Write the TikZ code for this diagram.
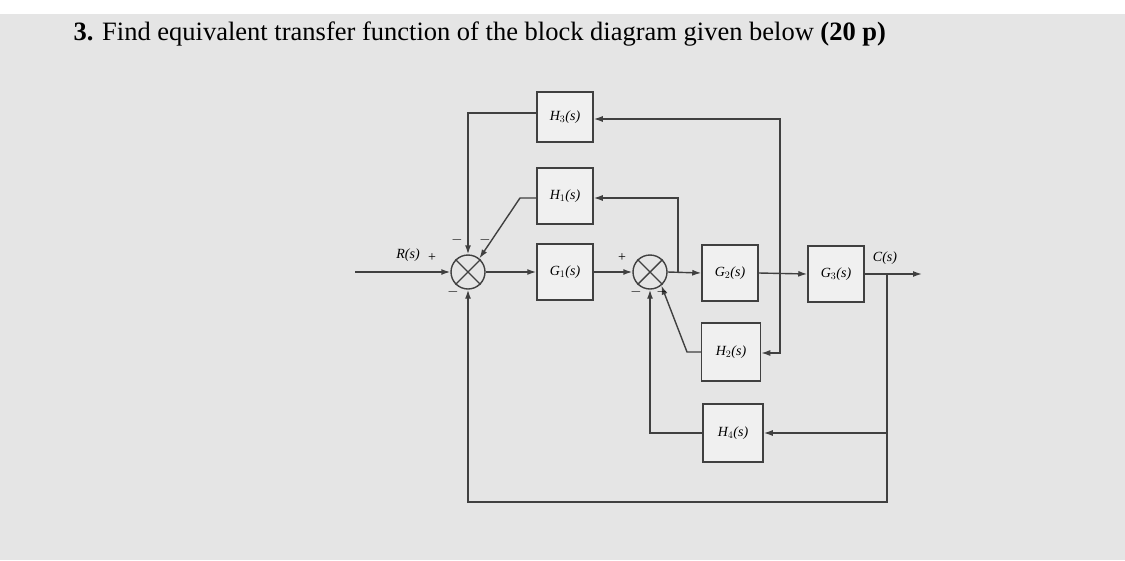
\documentclass[tikz,border=0pt]{standalone}
\usepackage{fontspec}
\setmainfont{Liberation Serif}
\usetikzlibrary{arrows.meta}
\begin{document}
\begin{tikzpicture}[x=1pt,y=-1pt,
  blk/.style={draw=black!75,line width=1.5pt,fill=black!6,minimum width=56pt,minimum height=56pt,inner sep=0pt,font=\itshape\fontsize{14}{16}\selectfont},
  sumj/.style={draw=black!75,line width=1.4pt,circle,minimum size=34pt,inner sep=0pt},
  ln/.style={draw=black!75,line width=1.4pt},
  ar/.style={ln,-{Latex[length=9pt,width=6pt]}},
  sg/.style={font=\fontsize{14}{16}\selectfont}]
\useasboundingbox (0,0) rectangle (1125,560);
\fill[black!10] (0,0) rectangle (1125,560);
\fill[white] (0,0) rectangle (1125,14);
\node[font=\fontsize{26.5}{30}\selectfont,anchor=west] (title) at (70,34) {\textbf{3.} Find equivalent transfer function of the block diagram given below \textbf{(20 p)}};
\node[sumj] (s1) at (468,272) {};
\draw[ln] (s1.45)--(s1.225) (s1.135)--(s1.315);
\node[sumj] (s2) at (650,272) {};
\draw[ln] (s2.45)--(s2.225) (s2.135)--(s2.315);
\node[blk,minimum height=50pt] (H3) at (565,117) {H$_3$(s)};
\node[blk] (H1) at (565,196) {H$_1$(s)};
\node[blk] (G1) at (565,272) {G$_1$(s)};
\node[blk] (G2) at (730,273) {G$_2$(s)};
\node[blk] (G3) at (836,274) {G$_3$(s)};
\node[blk,minimum width=59pt,minimum height=58pt] (H2) at (731,352) {H$_2$(s)};
\node[blk,minimum width=60pt,minimum height=58pt] (H4) at (733,433) {H$_4$(s)};
\coordinate (rin) at (355,272);
\coordinate (cout) at (922,274);
\coordinate (bC) at (887,274);
\coordinate (b23) at (780,274);
\coordinate (bs2) at (678,272);
\node[font=\itshape\fontsize{14}{16}\selectfont] (Rl) at (408,255) {R(s)};
\node[font=\itshape\fontsize{14}{16}\selectfont] (Cl) at (885,258) {C(s)};
\draw[ar] (rin)--(s1.west);
\draw[ar] (s1.east)--(G1.west);
\draw[ar] (G1.east)--(s2.west);
\draw[ar] (s2.east)--(G2.west);
\draw[ar] (G2.east)--(G3.west);
\draw[ar] (G3.east)--(cout);
\draw[ar] (b23)--(780,119)--(H3.east|-0,119);
\draw[ar] (780,119)--(780,353)--(H2.east|-0,353);
\draw[ar] (H3.west|-0,113)--(468,113)--(s1.north);
\draw[ar] (bs2)--(678,198)--(H1.east|-0,198);
\draw[ar] (H1.west|-0,198)--(520,198)--(s1.50);
\draw[ar] (H2.west)--(687,352)--(s2.-50);
\draw[ar] (bC)--(887,433)--(H4.east);
\draw[ar] (H4.west)--(650,433)--(s2.south);
\draw[ar] (887,433)--(887,502)--(468,502)--(s1.south);
\node[sg] (p1) at (432,258) {+};
\node[sg] (m1a) at (457,240) {$-$};
\node[sg] (m1b) at (485,240) {$-$};
\node[sg] (m1c) at (453,292) {$-$};
\node[sg] (p2) at (622,258) {+};
\node[sg] (m2a) at (636,292) {$-$};
\node[sg] (m2b) at (662,292) {$-$};
\end{tikzpicture}
\end{document}
